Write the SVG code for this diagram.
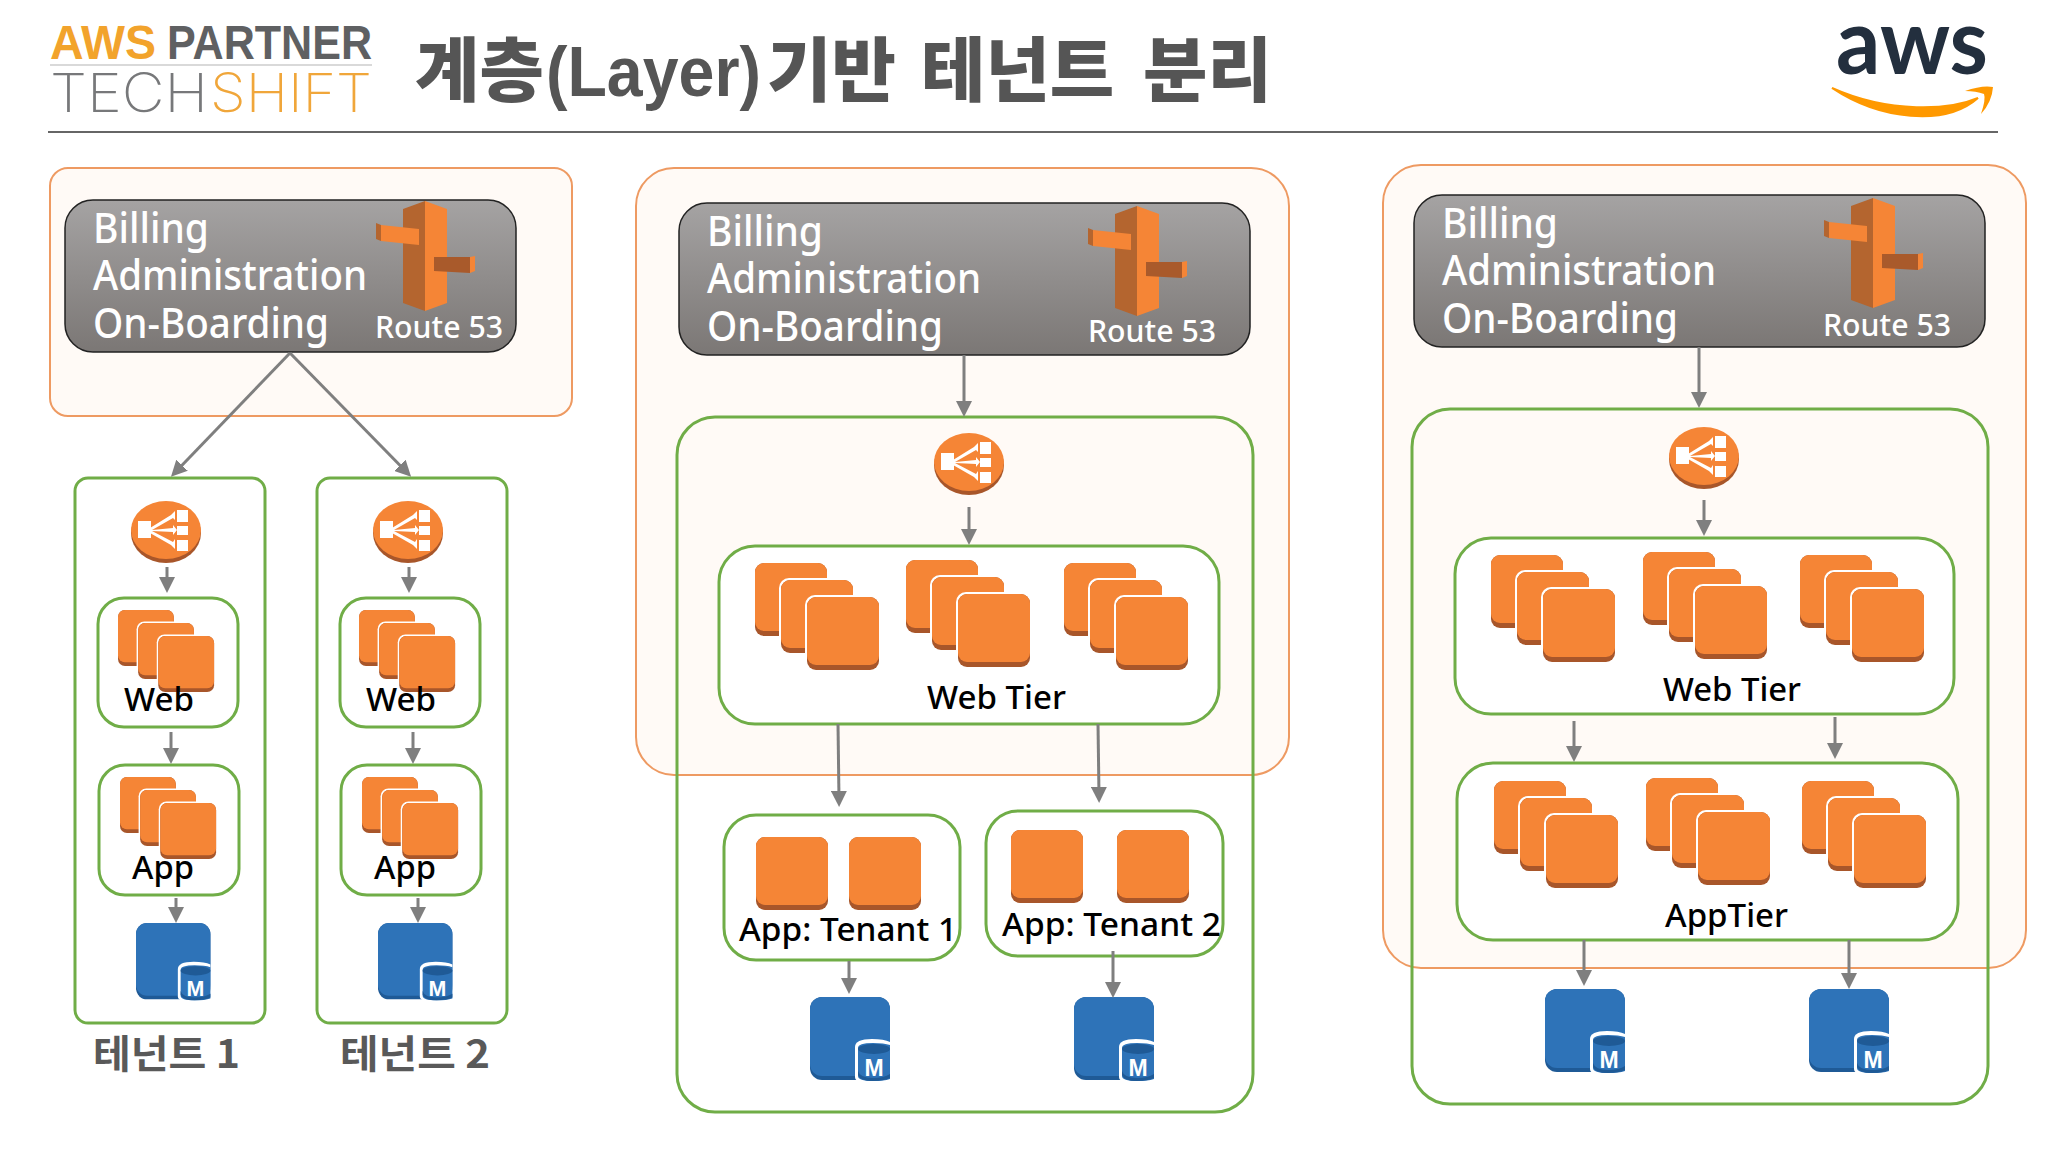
<svg xmlns="http://www.w3.org/2000/svg" xmlns:xlink="http://www.w3.org/1999/xlink" width="2048" height="1152" viewBox="0 0 2048 1152">
<style>
.zone{fill:#fffaf6;stroke:#ee9a62;stroke-width:2}
.grp{fill:#fff;stroke:#70ad47;stroke-width:3}
.open{fill:none;stroke:#70ad47;stroke-width:3}
.dark{fill:url(#dg);stroke:#222;stroke-width:1.5}
.svc{font-family:"Noto Sans","Liberation Sans",sans-serif;font-size:41px;font-weight:500;fill:#fff}
.r53{font-family:"Noto Sans","Liberation Sans",sans-serif;font-size:31px;font-weight:500;fill:#fff}
.lbl{font-family:"Noto Sans","Liberation Sans",sans-serif;font-size:33px;font-weight:500;fill:#000}
.ten{font-family:"Noto Sans CJK KR","Noto Sans",sans-serif;font-size:39px;font-weight:700;fill:#595959}
.cn line{stroke:#7f7f7f;stroke-width:3;fill:none;marker-end:url(#ah)}
.dbm{font-family:"Liberation Sans",sans-serif;font-weight:700;font-size:23px;fill:#fff}
.ko{font-family:"Noto Sans CJK KR",sans-serif;font-weight:900;font-size:70px}
.la{font-family:"Liberation Sans",sans-serif;font-weight:700;font-size:70px}
</style>
<defs>
<linearGradient id="dg" x1="0" y1="0" x2="0" y2="1"><stop offset="0" stop-color="#a5a3a3"/><stop offset="1" stop-color="#7b7775"/></linearGradient>
<marker id="ah" viewBox="0 0 16 16" markerWidth="16" markerHeight="16" refX="8" refY="8" orient="auto" markerUnits="userSpaceOnUse"><path d="M0 0L16 8L0 16Z" fill="#7f7f7f"/></marker>
<g id="r53i">
<path d="M-22 8L0 0V110L-22 102Z" fill="#b4652f"/>
<path d="M22 8L0 0V110L22 102Z" fill="#f58536"/>
<path d="M-44 24L-6 28V44L-44 40Z" fill="#f58536"/>
<path d="M-49 22L-44 24V40L-49 38Z" fill="#b4652f"/>
<path d="M9 56H45V72L9 70Z" fill="#a95a2b"/>
<path d="M45 56L50 55V70L45 72Z" fill="#f58536"/>
</g>
<g id="elb">
<ellipse cx="0" cy="3" rx="35" ry="30" fill="#a8562a"/>
<ellipse cx="0" cy="0" rx="35" ry="29" fill="#f58536"/>
<g fill="#fff"><rect x="-28" y="-9" width="13" height="17"/><rect x="11" y="-20" width="11" height="12"/><rect x="11" y="-4" width="11" height="9"/><rect x="11" y="10" width="11" height="11"/>
<path d="M-16 -2L5 -15L9 -19L9 -10L7 -12L-14 0L7 -2V-5L11 0L7 5V2L-14 1L7 12L9 9L9 19L5 15L-16 3Z"/></g>
</g>
<g id="sq"><rect x="0" y="0" width="72" height="73" rx="9" fill="#a8562a"/><rect x="0" y="0" width="72" height="68" rx="9" fill="#f58536"/></g>
<g id="stack">
<use href="#sq"/>
<rect x="24" y="15" width="76" height="77" rx="10" fill="#fff"/><use href="#sq" x="26" y="17"/>
<rect x="50" y="32" width="76" height="77" rx="10" fill="#fff"/><use href="#sq" x="52" y="34"/>
</g>
<g id="db">
<rect x="0" y="0" width="80" height="83" rx="12" fill="#1f5a96"/>
<rect x="0" y="0" width="80" height="79" rx="12" fill="#2e73b8"/>
<path d="M45 50Q45 42 62 42Q74 42 80 45V86H62Q45 86 45 80Z" fill="#fff"/>
<path d="M48 51Q48 46 63 46Q74 46 80 48V82Q74 84 63 84Q48 84 48 79Z" fill="#2e73b8"/>
<path d="M48 78Q50 84 63 84Q74 84 80 81V77Q74 81 63 81Q50 81 48 74Z" fill="#1f5a96"/>
<ellipse cx="64" cy="52" rx="16" ry="5" fill="#1f5a96"/>
<text class="dbm" x="64" y="79" text-anchor="middle">M</text>
</g>
</defs>
<rect width="2048" height="1152" fill="#fff"/>
<g id="header">
<text x="50" y="59" font-family="Liberation Sans,sans-serif" font-weight="700" font-size="48" textLength="106" lengthAdjust="spacingAndGlyphs" fill="#f2a32c">AWS</text>
<text x="167" y="59" font-family="Liberation Sans,sans-serif" font-weight="700" font-size="48" textLength="205" lengthAdjust="spacingAndGlyphs" fill="#5f6062">PARTNER</text>
<line x1="50" y1="65" x2="372" y2="65" stroke="#ccc" stroke-width="1.5"/>
<text x="50" y="112" font-family="Inter,Lato,sans-serif" font-weight="200" font-size="54" textLength="158" lengthAdjust="spacingAndGlyphs" fill="#77787a">TECH</text>
<text x="210" y="112" font-family="Inter,Lato,sans-serif" font-weight="200" font-size="54" textLength="162" lengthAdjust="spacingAndGlyphs" fill="#f0a63a">SHIFT</text>
<text y="96" fill="#555"><tspan class="ko" x="415">계층</tspan><tspan class="la" x="546" textLength="215" lengthAdjust="spacingAndGlyphs">(Layer)</tspan><tspan class="ko" x="767">기반 </tspan><tspan class="ko" x="921">테넌트 </tspan><tspan class="ko" x="1143">분리</tspan></text>
<line x1="48" y1="132" x2="1998" y2="132" stroke="#666" stroke-width="2"/>
</g>
<g id="aws-logo">
<text x="1836" y="74" font-family="Lato,Open Sans,sans-serif" font-weight="700" font-size="92" textLength="152" lengthAdjust="spacingAndGlyphs" fill="#232f3e">aws</text>
<path d="M1832 88C1880 120 1945 127 1978 98C1950 110 1890 114 1832 88Z" fill="#f90" stroke="#f90" stroke-width="2"/>
<path d="M1965 91Q1982 85 1993 87Q1992 102 1981 114Q1986 99 1984 94Q1976 91 1965 91Z" fill="#f90"/>
</g>
<g id="zone-pooled"><rect class="zone" x="50" y="168" width="522" height="248" rx="18"/></g>
<g id="zone-middle"><rect class="zone" x="636" y="168" width="653" height="607" rx="38"/></g>
<g id="zone-right"><rect class="zone" x="1383" y="165" width="643" height="803" rx="38"/></g>

<g id="shared-1"><rect class="dark" x="65" y="200" width="451" height="152" rx="28"/>
<text class="svc" x="93" y="243" textLength="116" lengthAdjust="spacingAndGlyphs">Billing</text><text class="svc" x="93" y="290" textLength="274" lengthAdjust="spacingAndGlyphs">Administration</text><text class="svc" x="93" y="338" textLength="236" lengthAdjust="spacingAndGlyphs">On-Boarding</text>
<use href="#r53i" x="425" y="201"/><text class="r53" x="375" y="338" textLength="128" lengthAdjust="spacingAndGlyphs">Route 53</text></g>
<g id="shared-2"><rect class="dark" x="679" y="203" width="571" height="152" rx="28"/>
<text class="svc" x="707" y="246" textLength="116" lengthAdjust="spacingAndGlyphs">Billing</text><text class="svc" x="707" y="293" textLength="274" lengthAdjust="spacingAndGlyphs">Administration</text><text class="svc" x="707" y="341" textLength="236" lengthAdjust="spacingAndGlyphs">On-Boarding</text>
<use href="#r53i" x="1137" y="206"/><text class="r53" x="1088" y="342" textLength="128" lengthAdjust="spacingAndGlyphs">Route 53</text></g>
<g id="shared-3"><rect class="dark" x="1414" y="195" width="571" height="152" rx="28"/>
<text class="svc" x="1442" y="238" textLength="116" lengthAdjust="spacingAndGlyphs">Billing</text><text class="svc" x="1442" y="285" textLength="274" lengthAdjust="spacingAndGlyphs">Administration</text><text class="svc" x="1442" y="333" textLength="236" lengthAdjust="spacingAndGlyphs">On-Boarding</text>
<use href="#r53i" x="1873" y="198"/><text class="r53" x="1823" y="336" textLength="128" lengthAdjust="spacingAndGlyphs">Route 53</text></g>

<g id="tenant-1"><rect class="grp" x="75" y="478" width="190" height="545" rx="13"/>
<use href="#elb" x="166" y="530"/>
<rect class="grp" x="98" y="598" width="140" height="129" rx="26"/>
<use href="#stack" transform="translate(118 610) scale(.775 .767)"/>
<text class="lbl" x="124" y="711" textLength="70" lengthAdjust="spacingAndGlyphs">Web</text>
<rect class="grp" x="99" y="765" width="140" height="130" rx="26"/>
<use href="#stack" transform="translate(120 777) scale(.775 .767)"/>
<text class="lbl" x="132" y="879" textLength="62" lengthAdjust="spacingAndGlyphs">App</text>
<use href="#db" transform="translate(136 923) scale(.93 .92)"/>
<text class="ten" x="93" y="1068" textLength="147" lengthAdjust="spacingAndGlyphs">테넌트 1</text></g>
<g id="tenant-2"><rect class="grp" x="317" y="478" width="190" height="545" rx="13"/>
<use href="#elb" x="408" y="530"/>
<rect class="grp" x="340" y="598" width="140" height="129" rx="26"/>
<use href="#stack" transform="translate(359 610) scale(.775 .767)"/>
<text class="lbl" x="366" y="711" textLength="70" lengthAdjust="spacingAndGlyphs">Web</text>
<rect class="grp" x="341" y="765" width="140" height="130" rx="26"/>
<use href="#stack" transform="translate(362 777) scale(.775 .767)"/>
<text class="lbl" x="374" y="879" textLength="62" lengthAdjust="spacingAndGlyphs">App</text>
<use href="#db" transform="translate(378 923) scale(.93 .92)"/>
<text class="ten" x="340" y="1068" textLength="150" lengthAdjust="spacingAndGlyphs">테넌트 2</text></g>

<g id="middle-stack"><rect class="open" x="677" y="417" width="576" height="695" rx="38"/>
<use href="#elb" x="969" y="462"/>
<rect class="grp" x="719" y="546" width="500" height="178" rx="36"/>
<use href="#stack" x="755" y="563"/><use href="#stack" x="906" y="560"/><use href="#stack" x="1064" y="563"/>
<text class="lbl" x="927" y="709" textLength="139" lengthAdjust="spacingAndGlyphs">Web Tier</text>
<rect class="grp" x="724" y="815" width="236" height="145" rx="32"/>
<use href="#sq" x="756" y="837"/><use href="#sq" x="849" y="837"/>
<text class="lbl" x="739" y="941" textLength="218" lengthAdjust="spacingAndGlyphs">App: Tenant 1</text>
<rect class="grp" x="986" y="811" width="237" height="145" rx="32"/>
<use href="#sq" x="1011" y="830"/><use href="#sq" x="1117" y="830"/>
<text class="lbl" x="1002" y="936" textLength="219" lengthAdjust="spacingAndGlyphs">App: Tenant 2</text>
<use href="#db" x="810" y="997"/><use href="#db" x="1074" y="997"/></g>

<g id="right-stack"><rect class="open" x="1412" y="409" width="576" height="695" rx="38"/>
<use href="#elb" x="1704" y="456"/>
<rect class="grp" x="1455" y="538" width="499" height="176" rx="36"/>
<use href="#stack" x="1491" y="555"/><use href="#stack" x="1643" y="552"/><use href="#stack" x="1800" y="555"/>
<text class="lbl" x="1663" y="701" textLength="138" lengthAdjust="spacingAndGlyphs">Web Tier</text>
<rect class="grp" x="1457" y="763" width="501" height="177" rx="36"/>
<use href="#stack" x="1494" y="781"/><use href="#stack" x="1646" y="778"/><use href="#stack" x="1802" y="781"/>
<text class="lbl" x="1665" y="927" textLength="123" lengthAdjust="spacingAndGlyphs">AppTier</text>
<use href="#db" x="1545" y="989"/><use href="#db" x="1809" y="989"/></g>

<g id="connectors" class="cn">
<line x1="290" y1="353" x2="176.5" y2="471"/><line x1="290" y1="353" x2="405.5" y2="471"/>
<line x1="167" y1="567" x2="167" y2="585"/><line x1="171" y1="732" x2="171" y2="756"/><line x1="176" y1="898" x2="176" y2="915"/>
<line x1="409" y1="567" x2="409" y2="585"/><line x1="413" y1="732" x2="413" y2="756"/><line x1="418" y1="898" x2="418" y2="915"/>
<line x1="964" y1="355" x2="964" y2="409"/><line x1="969" y1="507" x2="969" y2="537"/>
<line x1="838" y1="724" x2="839" y2="799"/><line x1="1098" y1="724" x2="1099" y2="795"/>
<line x1="849" y1="961" x2="849" y2="986"/><line x1="1113" y1="951" x2="1113" y2="990"/>
<line x1="1699" y1="347" x2="1699" y2="400"/><line x1="1704" y1="500" x2="1704" y2="528"/>
<line x1="1574" y1="721" x2="1574" y2="754"/><line x1="1835" y1="717" x2="1835" y2="751"/>
<line x1="1584" y1="940" x2="1584" y2="978"/><line x1="1849" y1="940" x2="1849" y2="981"/>
</g>
</svg>
